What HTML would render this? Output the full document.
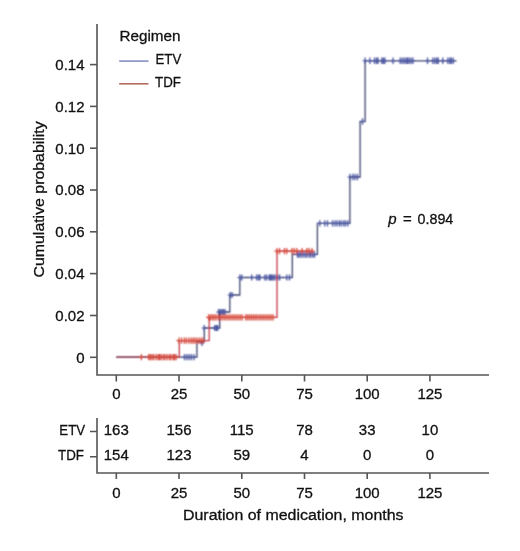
<!DOCTYPE html>
<html><head><meta charset="utf-8"><style>
html,body{margin:0;padding:0;background:#fff;}
svg{display:block;}
text{font-family:"Liberation Sans", "DejaVu Sans", sans-serif;font-size:15px;fill:#111;stroke:#111;stroke-width:0.3px;}
</style></head><body>
<svg width="520" height="551" viewBox="0 0 520 551">
<rect width="520" height="551" fill="#fff"/>
<path d="M97,24 V375 H489" fill="none" stroke="#555" stroke-width="1.6"/>
<path d="M90,357.3 H97" stroke="#555" stroke-width="1.6"/>
<text transform="translate(84.50,362.60) scale(1,1.03)" text-anchor="end">0</text>
<path d="M90,315.5 H97" stroke="#555" stroke-width="1.6"/>
<text transform="translate(84.50,320.80) scale(1,1.03)" text-anchor="end">0.02</text>
<path d="M90,273.6 H97" stroke="#555" stroke-width="1.6"/>
<text transform="translate(84.50,278.90) scale(1,1.03)" text-anchor="end">0.04</text>
<path d="M90,231.8 H97" stroke="#555" stroke-width="1.6"/>
<text transform="translate(84.50,237.10) scale(1,1.03)" text-anchor="end">0.06</text>
<path d="M90,190.0 H97" stroke="#555" stroke-width="1.6"/>
<text transform="translate(84.50,195.30) scale(1,1.03)" text-anchor="end">0.08</text>
<path d="M90,148.2 H97" stroke="#555" stroke-width="1.6"/>
<text transform="translate(84.50,153.50) scale(1,1.03)" text-anchor="end">0.10</text>
<path d="M90,106.4 H97" stroke="#555" stroke-width="1.6"/>
<text transform="translate(84.50,111.70) scale(1,1.03)" text-anchor="end">0.12</text>
<path d="M90,64.6 H97" stroke="#555" stroke-width="1.6"/>
<text transform="translate(84.50,69.90) scale(1,1.03)" text-anchor="end">0.14</text>
<path d="M116.3,375 V381.5" stroke="#555" stroke-width="1.6"/>
<text transform="translate(116.30,399.30) scale(1,1.03)" text-anchor="middle">0</text>
<path d="M179.0,375 V381.5" stroke="#555" stroke-width="1.6"/>
<text transform="translate(179.02,399.30) scale(1,1.03)" text-anchor="middle">25</text>
<path d="M241.8,375 V381.5" stroke="#555" stroke-width="1.6"/>
<text transform="translate(241.75,399.30) scale(1,1.03)" text-anchor="middle">50</text>
<path d="M304.5,375 V381.5" stroke="#555" stroke-width="1.6"/>
<text transform="translate(304.47,399.30) scale(1,1.03)" text-anchor="middle">75</text>
<path d="M367.2,375 V381.5" stroke="#555" stroke-width="1.6"/>
<text transform="translate(367.20,399.30) scale(1,1.03)" text-anchor="middle">100</text>
<path d="M429.9,375 V381.5" stroke="#555" stroke-width="1.6"/>
<text transform="translate(429.93,399.30) scale(1,1.03)" text-anchor="middle">125</text>
<path d="M97,418 V473 H489" fill="none" stroke="#555" stroke-width="1.6"/>
<path d="M90,431.5 H97 M90,456.7 H97" stroke="#555" stroke-width="1.6"/>
<text transform="translate(59.30,435.00) scale(1,1.03)" textLength="25.8" lengthAdjust="spacingAndGlyphs">ETV</text>
<text transform="translate(58.00,460.40) scale(1,1.03)" textLength="25.9" lengthAdjust="spacingAndGlyphs">TDF</text>
<text transform="translate(116.30,435.00) scale(1,1.03)" text-anchor="middle">163</text>
<text transform="translate(116.30,460.20) scale(1,1.03)" text-anchor="middle">154</text>
<path d="M116.3,473 V479" stroke="#555" stroke-width="1.6"/>
<text transform="translate(116.30,497.50) scale(1,1.03)" text-anchor="middle">0</text>
<text transform="translate(179.02,435.00) scale(1,1.03)" text-anchor="middle">156</text>
<text transform="translate(179.02,460.20) scale(1,1.03)" text-anchor="middle">123</text>
<path d="M179.0,473 V479" stroke="#555" stroke-width="1.6"/>
<text transform="translate(179.02,497.50) scale(1,1.03)" text-anchor="middle">25</text>
<text transform="translate(241.75,435.00) scale(1,1.03)" text-anchor="middle">115</text>
<text transform="translate(241.75,460.20) scale(1,1.03)" text-anchor="middle">59</text>
<path d="M241.8,473 V479" stroke="#555" stroke-width="1.6"/>
<text transform="translate(241.75,497.50) scale(1,1.03)" text-anchor="middle">50</text>
<text transform="translate(304.47,435.00) scale(1,1.03)" text-anchor="middle">78</text>
<text transform="translate(304.47,460.20) scale(1,1.03)" text-anchor="middle">4</text>
<path d="M304.5,473 V479" stroke="#555" stroke-width="1.6"/>
<text transform="translate(304.47,497.50) scale(1,1.03)" text-anchor="middle">75</text>
<text transform="translate(367.20,435.00) scale(1,1.03)" text-anchor="middle">33</text>
<text transform="translate(367.20,460.20) scale(1,1.03)" text-anchor="middle">0</text>
<path d="M367.2,473 V479" stroke="#555" stroke-width="1.6"/>
<text transform="translate(367.20,497.50) scale(1,1.03)" text-anchor="middle">100</text>
<text transform="translate(429.93,435.00) scale(1,1.03)" text-anchor="middle">10</text>
<text transform="translate(429.93,460.20) scale(1,1.03)" text-anchor="middle">0</text>
<path d="M429.9,473 V479" stroke="#555" stroke-width="1.6"/>
<text transform="translate(429.93,497.50) scale(1,1.03)" text-anchor="middle">125</text>
<text transform="translate(183.00,519.80) scale(1,1.03)" textLength="220.6" lengthAdjust="spacingAndGlyphs">Duration of medication, months</text>
<text transform="translate(44.00,277.50) rotate(-90) scale(1,1.03)" textLength="156.2" lengthAdjust="spacingAndGlyphs">Cumulative probability</text>
<text transform="translate(388.30,223.80) scale(1,1.03)" font-style="italic">p</text>
<text transform="translate(403.00,223.80) scale(1,1.03)">=</text>
<text transform="translate(417.60,223.80) scale(1,1.03)" textLength="35.7" lengthAdjust="spacingAndGlyphs">0.894</text>
<text transform="translate(119.50,41.20) scale(1,1.03)" textLength="61" lengthAdjust="spacingAndGlyphs">Regimen</text>
<path d="M119.2,61.1 H148.5" stroke="#8590c4" stroke-width="1.6"/>
<path d="M119.2,83.8 H148.5" stroke="#b4695c" stroke-width="1.6"/>
<text transform="translate(155.50,64.00) scale(1,1.03)" textLength="25.8" lengthAdjust="spacingAndGlyphs">ETV</text>
<text transform="translate(155.00,86.80) scale(1,1.03)" textLength="25.9" lengthAdjust="spacingAndGlyphs">TDF</text>
<defs><filter id="bl" filterUnits="userSpaceOnUse" x="0" y="0" width="520" height="551"><feConvolveMatrix order="3" kernelMatrix="1 2 1 2 6 2 1 2 1" divisor="18" edgeMode="none"/></filter></defs>
<g fill="none" stroke-linejoin="miter" filter="url(#bl)">
<path d="M116.3,357.2 H196.9 V341.6 H204.3 V328 H219.7 V312 H229.8 V295 H239.8 V277.5 H292.3 V254.3 H317.4 V223.3 H349.9 V177 H360.1 V121.5 H365.1 V60.8 H456.5" stroke="#3e4670" stroke-width="1.3"/>
<path d="M184.5,354.1V360.3 M186.8,354.1V360.3 M189.1,354.1V360.3 M191.4,354.1V360.3 M193.9,354.1V360.3 M202.0,339.9V346.1 M204.2,324.9V331.1 M214.7,324.9V331.1 M216.3,324.9V331.1 M217.6,324.9V331.1 M218.6,308.9V315.1 M220.2,308.9V315.1 M221.8,308.9V315.1 M223.4,308.9V315.1 M225.0,308.9V315.1 M230.2,291.9V298.1 M232.1,291.9V298.1 M239.8,274.4V280.6 M241.8,274.4V280.6 M251.7,274.4V280.6 M256.6,274.4V280.6 M258.5,274.4V280.6 M259.9,274.4V280.6 M264.7,274.4V280.6 M266.6,274.4V280.6 M269.2,274.4V280.6 M270.5,274.4V280.6 M271.8,274.4V280.6 M273.4,274.4V280.6 M275.1,274.4V280.6 M277.7,274.4V280.6 M279.6,274.4V280.6 M286.8,274.4V280.6 M289.5,274.4V280.6 M297.5,251.4V257.8 M299.2,251.4V257.8 M301.0,251.4V257.8 M303.0,251.4V257.8 M305.0,251.4V257.8 M306.8,251.4V257.8 M309.0,251.4V257.8 M310.7,251.4V257.8 M312.7,251.4V257.8 M314.5,251.4V257.8 M319.8,220.2V226.5 M324.8,220.2V226.5 M327.5,220.2V226.5 M332.5,220.2V226.5 M334.8,220.2V226.5 M337.0,220.2V226.5 M339.4,220.2V226.5 M341.3,220.2V226.5 M343.6,220.2V226.5 M345.5,220.2V226.5 M347.8,220.2V226.5 M350.0,173.8V180.2 M352.8,173.8V180.2 M355.0,173.8V180.2 M357.4,173.8V180.2 M362.5,118.3V124.7 M365.1,57.6V63.9 M369.9,57.6V63.9 M374.5,57.6V63.9 M376.5,57.6V63.9 M378.0,57.6V63.9 M381.8,57.6V63.9 M383.4,57.6V63.9 M384.9,57.6V63.9 M393.0,57.6V63.9 M400.2,57.6V63.9 M402.2,57.6V63.9 M404.1,57.6V63.9 M406.0,57.6V63.9 M407.5,57.6V63.9 M409.1,57.6V63.9 M411.0,57.6V63.9 M412.9,57.6V63.9 M427.5,57.6V63.9 M432.8,57.6V63.9 M434.8,57.6V63.9 M436.7,57.6V63.9 M438.2,57.6V63.9 M442.8,57.6V63.9 M447.8,57.6V63.9 M449.8,57.6V63.9 M451.3,57.6V63.9 M453.2,57.6V63.9" stroke="#4a55a0" stroke-width="1.3"/>
<path d="M181.9,357.2H187.1 M184.2,357.2H189.4 M186.5,357.2H191.7 M188.8,357.2H194.0 M191.3,357.2H196.5 M199.4,343.0H204.6 M201.6,328.0H206.8 M212.1,328.0H217.3 M213.7,328.0H218.9 M215.0,328.0H220.2 M216.0,312.0H221.2 M217.6,312.0H222.8 M219.2,312.0H224.4 M220.8,312.0H226.0 M222.4,312.0H227.6 M227.6,295.0H232.8 M229.5,295.0H234.7 M237.2,277.5H242.4 M239.2,277.5H244.4 M249.1,277.5H254.3 M254.0,277.5H259.2 M255.9,277.5H261.1 M257.3,277.5H262.5 M262.1,277.5H267.3 M264.0,277.5H269.2 M266.6,277.5H271.8 M267.9,277.5H273.1 M269.2,277.5H274.4 M270.8,277.5H276.0 M272.5,277.5H277.7 M275.1,277.5H280.3 M277.0,277.5H282.2 M284.2,277.5H289.4 M286.9,277.5H292.1 M294.9,254.6H300.1 M296.6,254.6H301.8 M298.4,254.6H303.6 M300.4,254.6H305.6 M302.4,254.6H307.6 M304.2,254.6H309.4 M306.4,254.6H311.6 M308.1,254.6H313.3 M310.1,254.6H315.3 M311.9,254.6H317.1 M317.2,223.3H322.4 M322.2,223.3H327.4 M324.9,223.3H330.1 M329.9,223.3H335.1 M332.2,223.3H337.4 M334.4,223.3H339.6 M336.8,223.3H342.0 M338.7,223.3H343.9 M341.0,223.3H346.2 M342.9,223.3H348.1 M345.2,223.3H350.4 M347.4,177.0H352.6 M350.2,177.0H355.4 M352.4,177.0H357.6 M354.8,177.0H360.0 M359.9,121.5H365.1 M362.5,60.8H367.7 M367.3,60.8H372.5 M371.9,60.8H377.1 M373.9,60.8H379.1 M375.4,60.8H380.6 M379.2,60.8H384.4 M380.8,60.8H386.0 M382.3,60.8H387.5 M390.4,60.8H395.6 M397.6,60.8H402.8 M399.6,60.8H404.8 M401.5,60.8H406.7 M403.4,60.8H408.6 M404.9,60.8H410.1 M406.5,60.8H411.7 M408.4,60.8H413.6 M410.3,60.8H415.5 M424.9,60.8H430.1 M430.2,60.8H435.4 M432.2,60.8H437.4 M434.1,60.8H439.3 M435.6,60.8H440.8 M440.2,60.8H445.4 M445.2,60.8H450.4 M447.2,60.8H452.4 M448.7,60.8H453.9 M450.6,60.8H455.8" stroke="#4a55a0" stroke-width="1.1"/>
<path d="M116.3,357.2 H179.3 V340.6 H209.2 V317.4 H277 V251.1 H313.4" stroke="#c43a4c" stroke-width="1.3"/>
<path d="M116.3,357.2 H179" stroke="#8c5468" stroke-width="1.3"/>
<path d="M141.4,354.1V360.3 M148.6,354.1V360.3 M150.3,354.1V360.3 M152.0,354.1V360.3 M153.7,354.1V360.3 M156.2,354.1V360.3 M158.3,354.1V360.3 M159.6,354.1V360.3 M161.3,354.1V360.3 M163.4,354.1V360.3 M165.1,354.1V360.3 M167.2,354.1V360.3 M169.4,354.1V360.3 M171.0,354.1V360.3 M173.2,354.1V360.3 M174.4,354.1V360.3 M176.1,354.1V360.3 M179.0,337.5V343.8 M181.5,337.5V343.8 M184.3,337.5V343.8 M186.4,337.5V343.8 M188.8,337.5V343.8 M191.0,337.5V343.8 M193.0,337.5V343.8 M194.8,337.5V343.8 M196.8,337.5V343.8 M199.0,337.5V343.8 M201.0,337.5V343.8 M203.0,337.5V343.8 M208.6,314.2V320.5 M210.4,314.2V320.5 M212.3,314.2V320.5 M214.1,314.2V320.5 M216.0,314.2V320.5 M218.2,314.2V320.5 M220.2,314.2V320.5 M222.2,314.2V320.5 M224.2,314.2V320.5 M226.2,314.2V320.5 M228.2,314.2V320.5 M230.2,314.2V320.5 M232.2,314.2V320.5 M234.2,314.2V320.5 M236.2,314.2V320.5 M238.2,314.2V320.5 M240.2,314.2V320.5 M242.2,314.2V320.5 M245.6,314.2V320.5 M247.5,314.2V320.5 M249.4,314.2V320.5 M251.3,314.2V320.5 M253.2,314.2V320.5 M255.1,314.2V320.5 M257.0,314.2V320.5 M259.2,314.2V320.5 M261.2,314.2V320.5 M263.2,314.2V320.5 M265.2,314.2V320.5 M267.2,314.2V320.5 M269.2,314.2V320.5 M271.2,314.2V320.5 M273.2,314.2V320.5 M276.9,247.9V254.2 M279.5,247.9V254.2 M284.4,247.9V254.2 M286.7,247.9V254.2 M291.9,247.9V254.2 M294.2,247.9V254.2 M296.8,247.9V254.2 M302.0,247.9V254.2 M306.8,247.9V254.2 M309.0,247.9V254.2 M312.0,247.9V254.2" stroke="#d64a3c" stroke-width="1.3"/>
<path d="M138.8,357.2H144.0 M146.0,357.2H151.2 M147.7,357.2H152.9 M149.4,357.2H154.6 M151.1,357.2H156.3 M153.6,357.2H158.8 M155.7,357.2H160.9 M157.0,357.2H162.2 M158.7,357.2H163.9 M160.8,357.2H166.0 M162.5,357.2H167.7 M164.6,357.2H169.8 M166.8,357.2H172.0 M168.4,357.2H173.6 M170.6,357.2H175.8 M171.8,357.2H177.0 M173.5,357.2H178.7 M176.4,340.6H181.6 M178.9,340.6H184.1 M181.7,340.6H186.9 M183.8,340.6H189.0 M186.2,340.6H191.4 M188.4,340.6H193.6 M190.4,340.6H195.6 M192.2,340.6H197.4 M194.2,340.6H199.4 M196.4,340.6H201.6 M198.4,340.6H203.6 M200.4,340.6H205.6 M206.0,317.4H211.2 M207.8,317.4H213.0 M209.7,317.4H214.9 M211.5,317.4H216.7 M213.4,317.4H218.6 M215.6,317.4H220.8 M217.6,317.4H222.8 M219.6,317.4H224.8 M221.6,317.4H226.8 M223.6,317.4H228.8 M225.6,317.4H230.8 M227.6,317.4H232.8 M229.6,317.4H234.8 M231.6,317.4H236.8 M233.6,317.4H238.8 M235.6,317.4H240.8 M237.6,317.4H242.8 M239.6,317.4H244.8 M243.0,317.4H248.2 M244.9,317.4H250.1 M246.8,317.4H252.0 M248.7,317.4H253.9 M250.6,317.4H255.8 M252.5,317.4H257.7 M254.4,317.4H259.6 M256.6,317.4H261.8 M258.6,317.4H263.8 M260.6,317.4H265.8 M262.6,317.4H267.8 M264.6,317.4H269.8 M266.6,317.4H271.8 M268.6,317.4H273.8 M270.6,317.4H275.8 M274.3,251.1H279.5 M276.9,251.1H282.1 M281.8,251.1H287.0 M284.1,251.1H289.3 M289.3,251.1H294.5 M291.6,251.1H296.8 M294.2,251.1H299.4 M299.4,251.1H304.6 M304.2,251.1H309.4 M306.4,251.1H311.6 M309.4,251.1H314.6" stroke="#d64a3c" stroke-width="1.1"/>
</g>
</svg>
</body></html>
